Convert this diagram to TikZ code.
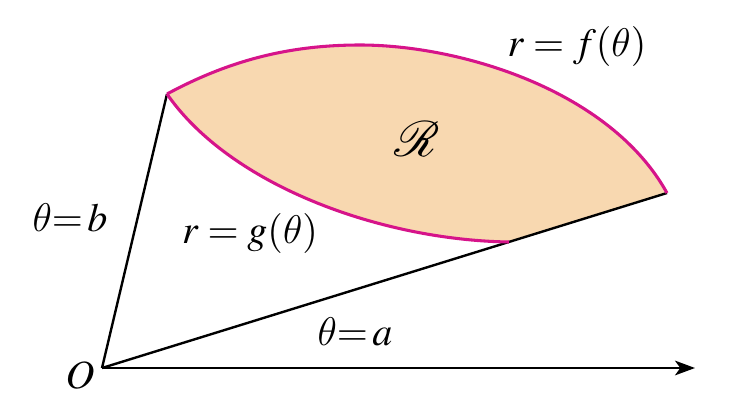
\RequirePackage{fix-cm}
\documentclass[tikz,border=0pt]{standalone}
\usepackage{mathptmx}
\usepackage{mathrsfs}
\usepackage{graphicx}
\usetikzlibrary{arrows.meta}
\DeclareSymbolFont{cmlettersx}{OML}{cmm}{m}{it}
\DeclareMathSymbol{\cmthetax}{\mathord}{cmlettersx}{"12}
\definecolor{regionfill}{RGB}{248,216,176}
\definecolor{curvemag}{RGB}{214,20,138}
\tikzset{
  axisline/.style={line width=1.8pt, black},
  curveline/.style={line width=2.3pt, curvemag, line join=round},
  lbl/.style={font=\fontsize{30}{36}\selectfont, inner sep=0pt}
}
\begin{document}
\begin{tikzpicture}[x=0.75pt,y=-0.75pt]
\useasboundingbox (0,0) rectangle (736,414);
\coordinate (O) at (102,368);
\coordinate (B) at (167,94);
\coordinate (A) at (667,193);
\coordinate (G) at (509,242);
\coordinate (T) at (360,45);
\coordinate (X) at (695,368);
% region
\fill[regionfill] (B) .. controls (230,60) and (290,45) .. (T) .. controls (460,45) and (610,90) .. (A)
  -- (G) .. controls (380,240) and (230,185) .. (B) -- cycle;
% rays
\draw[axisline] (O) -- (B);
\draw[axisline] (O) -- (A);
\draw[axisline, -{Stealth[length=15pt,width=11pt,inset=4pt]}] (O) -- (X);
% curves
\draw[curveline] (B) .. controls (230,60) and (290,45) .. (T) .. controls (460,45) and (610,90) .. (A);
\draw[curveline] (B) .. controls (230,185) and (380,240) .. (G);
% labels
\node[lbl] (lf) at (577,46) {$r=f(\cmthetax)$};
\node[lbl] (lR) at (417,139) {\scalebox{1.5}{$\mathscr{R}$}};
\node[lbl] (lb) at (70,218) {$\cmthetax{=}\,b$};
\node[lbl] (lg) at (250,233) {$r=g(\cmthetax)$};
\node[lbl] (la) at (355,332) {$\cmthetax{=}\,a$};
\node[lbl] (lO) at (80,375) {$O$};
\end{tikzpicture}
\end{document}
